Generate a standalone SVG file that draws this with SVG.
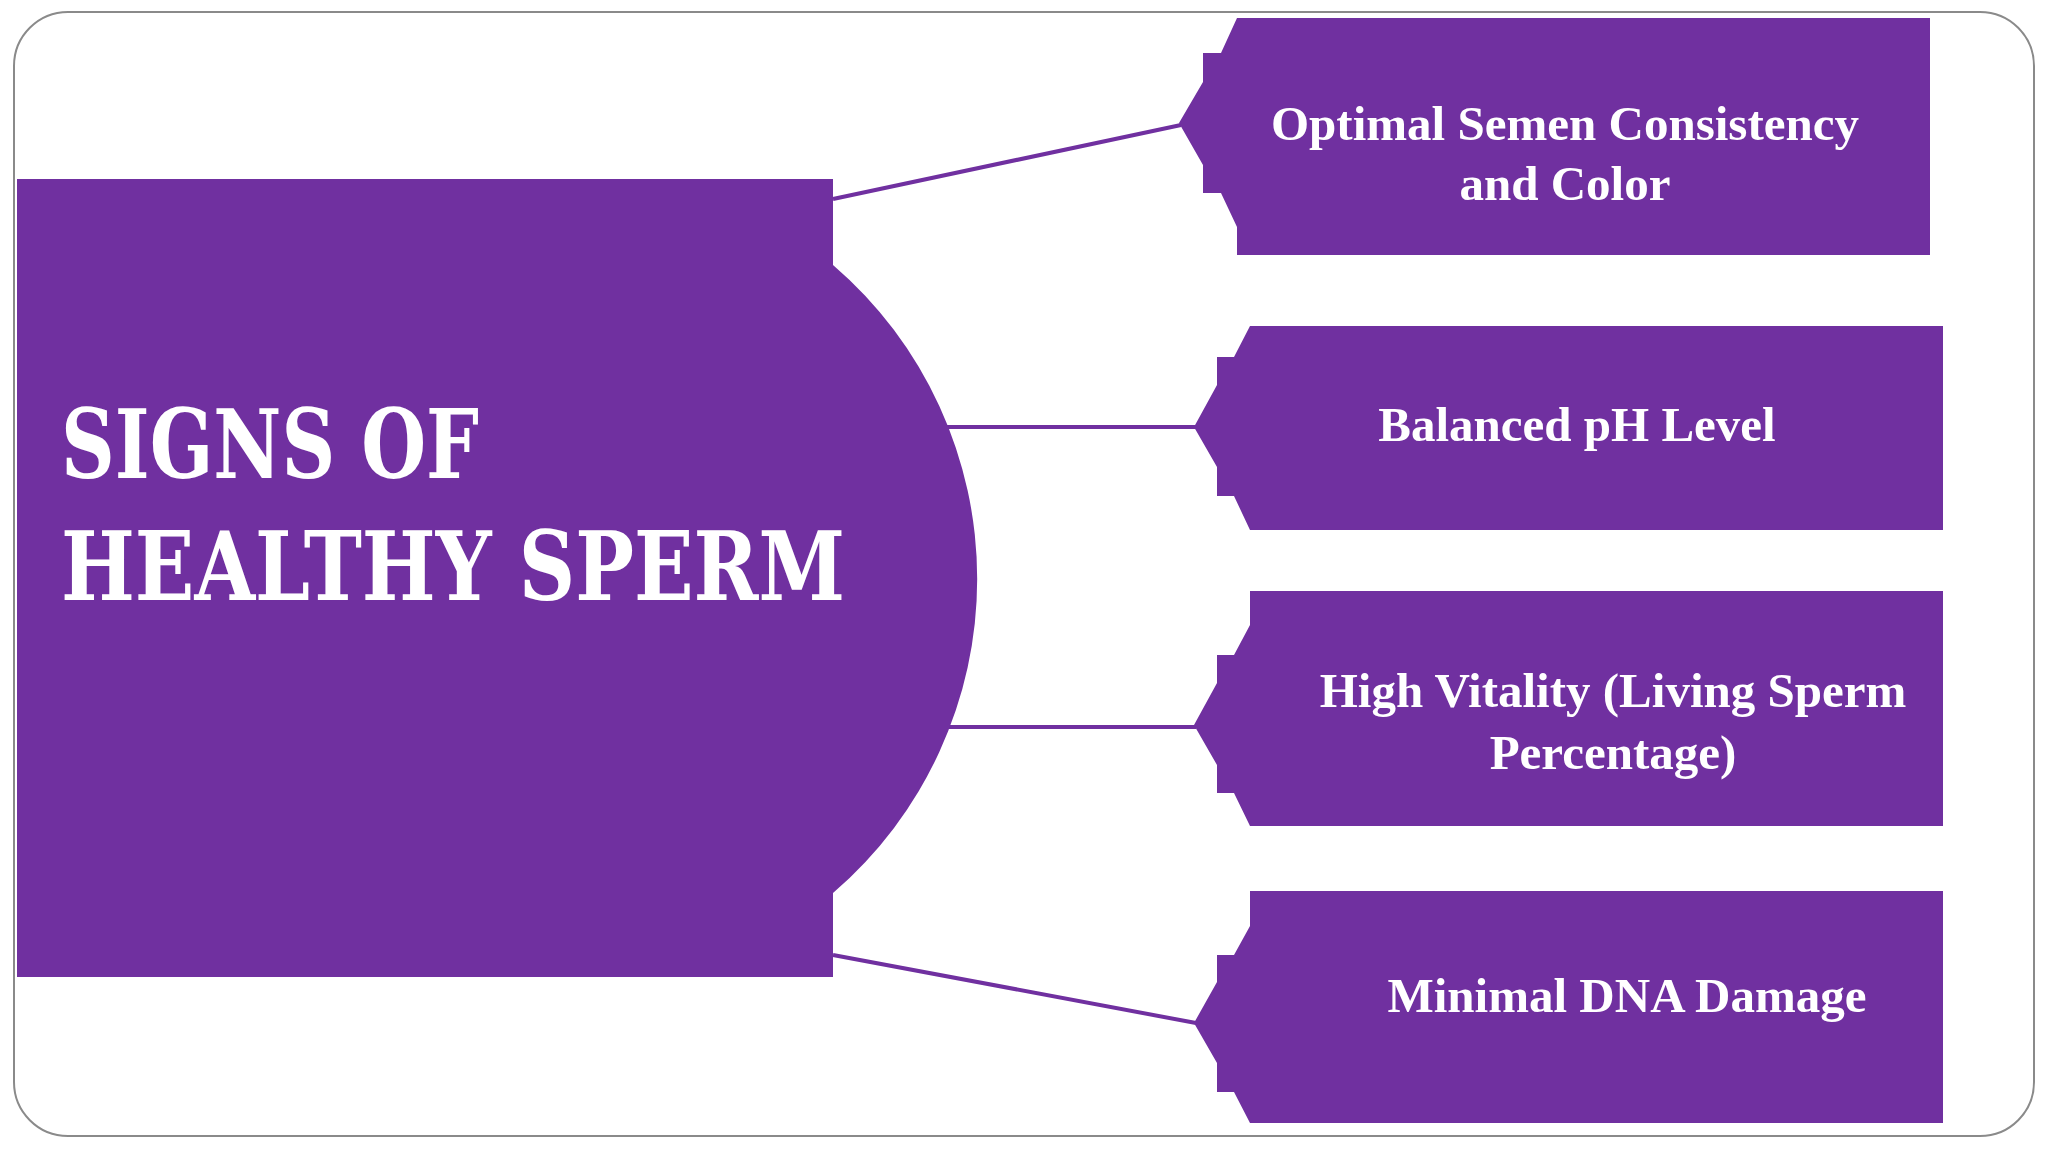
<svg xmlns="http://www.w3.org/2000/svg" width="2048" height="1152" viewBox="0 0 2048 1152">
  <style>
    .shape { fill: #7030A0; }
    .conn { stroke: #7030A0; stroke-width: 4; fill: none; }
    .label { font-family: "Liberation Serif", "Times New Roman", serif; font-weight: bold; font-size: 49px; fill: #FFFFFF; text-anchor: middle; }
    .title { font-family: "DejaVu Serif", "Liberation Serif", serif; font-weight: bold; font-size: 96px; fill: #FFFFFF; }
  </style>
  <rect x="0" y="0" width="2048" height="1152" fill="#FFFFFF"/>
  <rect id="frame" x="14" y="12" width="2020" height="1124" rx="54" ry="54" fill="#FFFFFF" stroke="#8a8a8a" stroke-width="2"/>

  <g id="connectors">
    <line class="conn" x1="833" y1="199" x2="1181" y2="125"/>
    <line class="conn" x1="946" y1="427" x2="1196" y2="427"/>
    <line class="conn" x1="948" y1="727" x2="1196" y2="727"/>
    <line class="conn" x1="833" y1="955" x2="1196" y2="1023"/>
  </g>

  <g id="main">
    <path class="shape" d="M17,179 H833 V265 A414,414 0 0 1 833,893 V977 H17 Z"/>
    <text class="title" x="61" y="478" textLength="418" lengthAdjust="spacingAndGlyphs">SIGNS OF</text>
    <text class="title" x="61" y="600" textLength="784" lengthAdjust="spacingAndGlyphs">HEALTHY SPERM</text>
  </g>

  <g id="node1">
    <path class="shape" d="M1237,18 H1930 V255 H1237 V227 L1221,193 H1203 V165 L1179,123 L1203,82 V53 H1221 Z"/>
    <text class="label" x="1565" y="140">Optimal Semen Consistency</text>
    <text class="label" x="1565" y="200">and Color</text>
  </g>

  <g id="node2">
    <path class="shape" d="M1250,326 H1943 V530 H1250 L1234,496 H1217 V467 L1194,427 L1217,385 V357 H1234 Z"/>
    <text class="label" x="1577" y="441">Balanced pH Level</text>
  </g>

  <g id="node3">
    <path class="shape" d="M1250,591 H1943 V826 H1250 L1234,793 H1217 V765 L1194,725 L1217,683 V655 H1234 L1250,625 Z"/>
    <text class="label" x="1613" y="707">High Vitality (Living Sperm</text>
    <text class="label" x="1613" y="769">Percentage)</text>
  </g>

  <g id="node4">
    <path class="shape" d="M1250,891 H1943 V1123 H1250 L1234,1092 H1217 V1063 L1194,1023 L1217,982 V955 H1234 L1250,926 Z"/>
    <text class="label" x="1627" y="1012">Minimal DNA Damage</text>
  </g>
</svg>
